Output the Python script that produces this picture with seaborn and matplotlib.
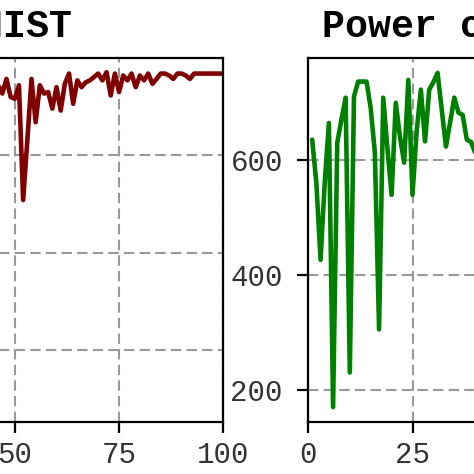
from matplotlib import pyplot as plt
import numpy as np
import pandas
import seaborn as sns

# MNIST accuracy per round (left panel)
mnist_acc = [62.0, 70.5, 74.8, 78.1, 80.3, 82.6, 83.9, 85.2, 86.4, 85.1,
             87.3, 88.0, 88.6, 87.2, 89.1, 89.6, 90.2, 88.4, 90.5, 90.9,
             91.3, 89.7, 91.6, 91.9, 92.2, 90.8, 92.4, 92.7, 93.0, 91.5,
             93.2, 93.4, 92.1, 93.6, 93.8, 92.6, 94.0, 94.1, 93.0, 94.3,
             94.4, 93.2, 94.5, 94.6, 93.5, 94.5, 92.7, 95.7, 92.0, 91.6,
             94.4, 70.8, 83.0, 95.7, 86.8, 94.4, 92.7, 93.0, 89.6, 94.0,
             89.2, 94.7, 96.8, 90.6, 95.4, 94.0, 95.0, 95.4, 96.1, 96.8,
             95.4, 97.1, 92.3, 96.8, 93.0, 96.4, 95.4, 96.8, 94.0, 96.4,
             95.4, 96.8, 94.7, 95.7, 96.8, 96.8, 96.4, 95.7, 96.8, 96.8,
             96.4, 95.7, 96.8, 96.8, 96.8, 96.8, 96.8, 96.8, 96.8, 96.8]

# Power consumption per round (right panel)
power = [635, 560, 426, 560, 664, 170, 630, 670, 708, 230,
         710, 736, 736, 736, 690, 612, 305, 708, 620, 539,
         699, 640, 595, 739, 539, 650, 722, 632, 722, 735,
         751, 687, 623, 665, 708, 682, 678, 635, 631, 612,
         640, 665, 690, 650, 700, 672, 640, 685, 710, 660,
         690, 645, 675, 700, 668, 690, 655, 680, 702, 670,
         688, 650, 676, 698, 664, 690, 658, 684, 700, 672,
         690, 660, 682, 698, 670, 688, 662, 680, 696, 672,
         686, 664, 680, 694, 670, 688, 666, 682, 692, 674,
         686, 668, 680, 690, 676, 684, 670, 682, 688, 678]

titles = ["MNIST", "Power consumption"]
mnist_yticks = [40, 60, 80, 100]
power_yticks = [200, 400, 600]
xticks = [0, 25, 50, 75, 100]

rounds = np.arange(1, len(mnist_acc) + 1)
df = pandas.DataFrame({"round": rounds, "mnist": mnist_acc, "power": power})

sns.set_theme(style="whitegrid")
plt.rcParams["font.family"] = ["Liberation Mono", "DejaVu Sans Mono"]

fig = plt.figure(figsize=(4.74, 4.74), dpi=100)
ax1 = fig.add_axes([-193.7 / 474, 52 / 474, 417 / 474, 364 / 474])
ax2 = fig.add_axes([308 / 474, 52 / 474, 418 / 474, 364 / 474])

sns.lineplot(data=df, x="round", y="mnist", ax=ax1, color="#800000", linewidth=3.3)
sns.lineplot(data=df, x="round", y="power", ax=ax2, color="#008000", linewidth=3.3)

ax1.set_ylim(25.2, 100)
ax1.set_yticks(mnist_yticks)
ax2.set_ylim(144, 777)
ax2.set_yticks(power_yticks)

for ax, title in zip([ax1, ax2], titles):
    ax.set_facecolor("white")
    ax.set_xlim(0, 100)
    ax.set_xticks(xticks)
    ax.set_xlabel("")
    ax.set_ylabel("")
    ax.set_title(title, fontsize=27.5, fontweight="bold", pad=15, color="black")
    ax.grid(True, color="#999999", linestyle=(0, (5, 2.5)), linewidth=1.5)
    for sp in ax.spines.values():
        sp.set_color("black")
        sp.set_linewidth(1.6)
    ax.tick_params(axis="both", which="major", labelsize=21, length=8, width=1.6,
                   color="black", labelcolor="#333333",
                   bottom=True, left=True, top=False, right=False)
    ax.tick_params(axis="x", pad=6)
    ax.tick_params(axis="y", pad=10)

fig.savefig("out.png", dpi=100)
